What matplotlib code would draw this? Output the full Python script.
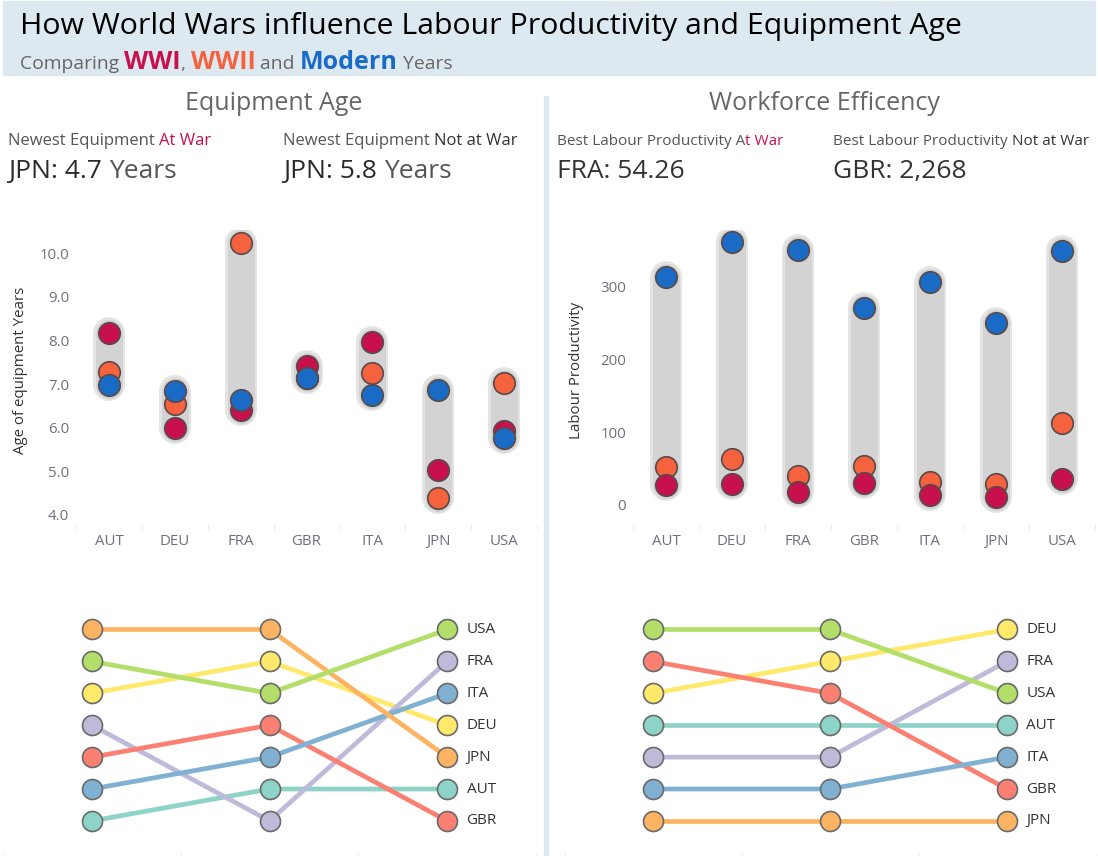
"""
World wars vs labour productivity and equipment age - Tableau-style dashboard recreation.
"""
import numpy as np
import pandas as pd
import matplotlib
matplotlib.use('Agg')
import matplotlib.pyplot as plt
from matplotlib.patches import Rectangle

# === Data ===
countries = ["AUT", "DEU", "FRA", "GBR", "ITA", "JPN", "USA"]
periods = ["WWII", "WWI", "Modern"]          # draw order (Modern on top)

# Age of equipment (years)
age_wwi = [8.16, 6.00, 6.41, 7.42, 7.97, 5.03, 5.93]
age_wwii = [7.28, 6.54, 10.24, 7.15, 7.25, 4.40, 7.03]
age_modern = [6.99, 6.85, 6.63, 7.13, 6.76, 6.87, 5.76]

# Labour productivity
prod_wwi = [27.5, 29.4, 17.5, 30.3, 14.2, 11.0, 35.8]
prod_wwii = [51.8, 62.5, 39.5, 54.2, 31.2, 29.0, 113.0]
prod_modern = [314.0, 362.0, 351.0, 271.0, 307.0, 249.5, 349.6]

age = pd.DataFrame({"WWI": age_wwi, "WWII": age_wwii, "Modern": age_modern}, index=countries)
prod = pd.DataFrame({"WWI": prod_wwi, "WWII": prod_wwii, "Modern": prod_modern}, index=countries)

period_colors = {"WWI": "#c8104d", "WWII": "#f5623e", "Modern": "#1a6bc5"}
country_colors = {"AUT": "#8dd3c7", "DEU": "#ffe96b", "FRA": "#bebada", "GBR": "#fb8072",
                  "ITA": "#80b1d3", "JPN": "#fdb462", "USA": "#b3de69"}

# ranks for bump charts: newest equipment first, best productivity first
age_rank = age[["WWI", "WWII", "Modern"]].rank(ascending=True)
prod_rank = prod[["WWI", "WWII", "Modern"]].rank(ascending=False)

# === Figure ===
W, H = 1098, 856
plt.rcParams['font.family'] = ['Open Sans', 'DejaVu Sans']
fig = plt.figure(figsize=(W / 100, H / 100), dpi=100)
fig.patch.set_facecolor('white')


def fx(x):
    return x / W


def fy(y):
    return 1 - y / H


def axes_px(x0, y0, x1, y1):
    return fig.add_axes([fx(x0), fy(y1), (x1 - x0) / W, (y1 - y0) / H])


# header band and divider
fig.patches.append(Rectangle((fx(3), fy(75)), (1095 - 3) / W, 74 / H,
                             transform=fig.transFigure, color='#dde9f0', zorder=0))
fig.patches.append(Rectangle((fx(544), fy(856)), 4 / W, (856 - 96) / H,
                             transform=fig.transFigure, color='#dde9f0', zorder=0))

renderer = fig.canvas.get_renderer()


def chain_text(x, y, pieces, va='baseline'):
    """Draw text pieces one after another starting at pixel x, baseline pixel y."""
    cur = x
    for s, size, color, weight in pieces:
        t = fig.text(fx(cur), fy(y), s, fontsize=size, color=color, fontweight=weight,
                     ha='left', va=va)
        bb = t.get_window_extent(renderer)
        cur = bb.x1
    return cur


fig.text(fx(20), fy(34), "How World Wars influence Labour Productivity and Equipment Age",
         fontsize=21.8, color='black', ha='left', va='baseline')
chain_text(20, 69, [("Comparing ", 13.9, '#666666', 'normal'),
                    ("WWI", 18, period_colors["WWI"], 'bold'),
                    (", ", 13.9, '#666666', 'normal'),
                    ("WWII", 18, period_colors["WWII"], 'bold'),
                    (" and ", 13.9, '#666666', 'normal'),
                    ("Modern", 18, period_colors["Modern"], 'bold'),
                    (" Years", 13.9, '#666666', 'normal')])

# section titles
fig.text(fx(274), fy(103), "Equipment Age", fontsize=18, color='#666666', ha='center', va='center')
fig.text(fx(824), fy(103), "Workforce Efficency", fontsize=18, color='#666666', ha='center', va='center')

# KPI texts
grey, dark = '#555555', '#333333'
chain_text(8, 145, [("Newest Equipment ", 12, grey, 'normal'), ("At War", 12, period_colors["WWI"], 'normal')])
chain_text(283, 145, [("Newest Equipment ", 12, grey, 'normal'), ("Not at War", 12, dark, 'normal')])
chain_text(8, 178, [("JPN: 4.7 ", 19, '#2a2a2a', 'normal'), ("Years", 19, grey, 'normal')])
chain_text(283, 178, [("JPN: 5.8 ", 19, '#2a2a2a', 'normal'), ("Years", 19, grey, 'normal')])
chain_text(557, 145, [("Best Labour Productivity A", 11, grey, 'normal'), ("t War", 11, period_colors["WWI"], 'normal')])
chain_text(833, 145, [("Best Labour Productivity ", 11, grey, 'normal'), ("Not at War", 11, dark, 'normal')])
chain_text(557, 178, [("FRA: 54.26", 19, dark, 'normal')])
chain_text(833, 178, [("GBR: 2,268", 19, dark, 'normal')])


def dot_chart(ax, df, ylim, yticks, fmt):
    x = np.arange(len(countries))
    lo = df.min(axis=1).values
    hi = df.max(axis=1).values
    ax.vlines(x, lo, hi, color='#e4e4e4', lw=23, capstyle='round', zorder=1)
    ax.vlines(x, lo, hi, color='#d3d3d3', lw=19.5, capstyle='round', zorder=2)
    for i, p in enumerate(periods):
        ax.plot(x, df[p].values, 'o', ms=15.5, color=period_colors[p],
                mec='#5a4a4a', mew=1.2, zorder=3 + i, linestyle='none')
    ax.set_xlim(-0.5, len(countries) - 0.5)
    ax.set_ylim(*ylim)
    ax.set_xticks(x)
    ax.set_xticklabels(countries)
    ax.set_xticks(np.arange(-0.5, len(countries)), minor=True)
    ax.set_yticks(yticks)
    ax.set_yticklabels([fmt.format(v) for v in yticks])
    ax.tick_params(axis='both', which='major', length=0, labelsize=10.8, labelcolor='#6e6e7e')
    ax.tick_params(axis='x', which='major', pad=5)
    ax.tick_params(axis='y', which='major', pad=5)
    ax.tick_params(axis='x', which='minor', length=4, color='#e8e8e8', direction='inout')
    for s in ax.spines.values():
        s.set_visible(False)
    ax.set_facecolor('none')


ax1 = axes_px(76, 230, 537, 527)
dot_chart(ax1, age, (3.725, 10.53), [4, 5, 6, 7, 8, 9, 10], "{:.1f}")
fig.text(fx(21), fy(370), "Age of equipment Years", rotation=90, fontsize=10.8, color=dark,
         ha='center', va='center')

ax2 = axes_px(633, 230, 1095, 527)
dot_chart(ax2, prod, (-30.3, 378), [0, 100, 200, 300], "{:.0f}")
fig.text(fx(577), fy(370), "Labour Productivity", rotation=90, fontsize=10.8, color=dark,
         ha='center', va='center')


def bump_chart(ax, ranks):
    for c in countries:
        ax.plot([0, 1, 2], ranks.loc[c].values, '-o', color=country_colors[c], lw=3.4,
                ms=14.4, mec='#6a6a6a', mew=1.2, solid_capstyle='butt')
        ax.annotate(c, (2, ranks.loc[c].values[-1]), xytext=(14, 0), textcoords='offset points',
                    fontsize=11, color=dark, ha='left', va='center')
    ax.set_xlim(-0.5, 2.5)
    ax.set_ylim(8.1, -0.05)
    ax.set_yticks([])
    ax.set_xticks([])
    ax.set_xticks([-0.5, 0.5, 1.5, 2.5], minor=True)
    ax.tick_params(axis='x', which='minor', length=4, color='#e8e8e8', direction='inout')
    for s in ax.spines.values():
        s.set_visible(False)
    ax.set_facecolor('none')


ax3 = axes_px(3, 596, 536, 856)
bump_chart(ax3, age_rank)
ax4 = axes_px(564.5, 596, 1095.5, 856)
bump_chart(ax4, prod_rank)

fig.savefig("out.png", dpi=100)
